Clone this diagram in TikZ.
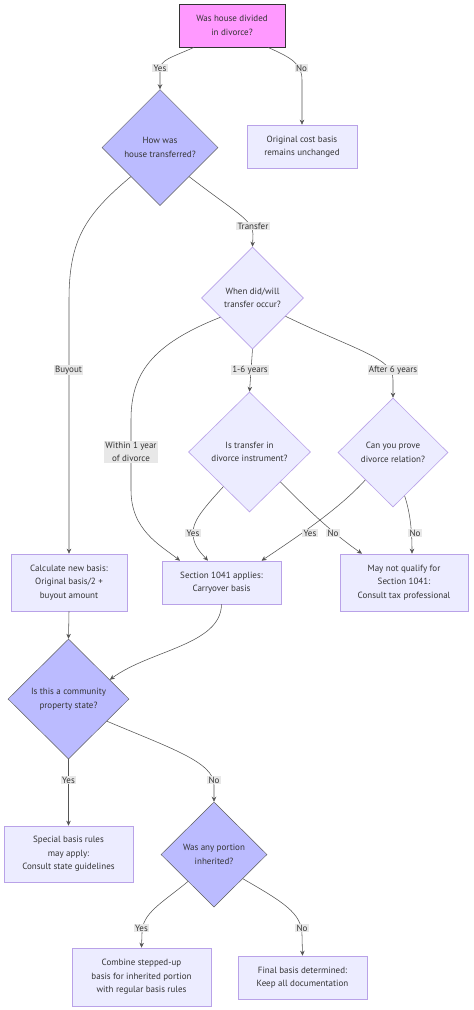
\documentclass[tikz,border=0pt]{standalone}
\usepackage{fontspec}
\setmainfont{PT Sans}
\usetikzlibrary{shapes.geometric,arrows.meta}
\definecolor{txt}{HTML}{333333}
\definecolor{edgec}{HTML}{555555}
\definecolor{pinkfill}{HTML}{FF99FF}
\definecolor{bluefill}{HTML}{BBBBFF}
\definecolor{lightfill}{HTML}{ECECFF}
\definecolor{lightstroke}{HTML}{9370DB}
\definecolor{lblfill}{HTML}{E8E8E8}
\tikzset{
  base/.style={font=\fontsize{9}{13.5}\selectfont, text=txt, align=center},
  pinkbox/.style={base, rectangle, fill=pinkfill, draw=txt, line width=0.8pt},
  plainbox/.style={base, rectangle, fill=lightfill, draw=lightstroke!65, line width=0.6pt},
  bluedia/.style={base, diamond, fill=bluefill, draw=txt!80, line width=0.5pt, inner sep=0pt, shape aspect=1},
  plaindia/.style={base, diamond, fill=lightfill, draw=lightstroke!65, line width=0.6pt, inner sep=0pt, shape aspect=1},
  edge/.style={draw=edgec, line width=0.55pt, -{Stealth[length=5pt,width=4.5pt]}},
  lbl/.style={base, fill=lblfill, inner sep=1.2pt, font=\fontsize{9}{13}\selectfont}
}
\begin{document}
\begin{tikzpicture}[x=1pt,y=-1pt]
\useasboundingbox (0,0) rectangle (474,1010);
\fill[white] (0,0) rectangle (474,1010);

% nodes
\node[pinkbox, minimum width=106pt, minimum height=43pt] (top) at (232,25.5) {Was house divided\\in divorce?};
\node[bluedia, minimum width=116pt, minimum height=116pt] (how) at (160,147.5) {How was\\house transferred?};
\node[plainbox, minimum width=110pt, minimum height=43pt] (orig) at (302,146.5) {Original cost basis\\remains unchanged};
\node[plaindia, minimum width=102pt, minimum height=102pt] (when) at (252.5,298) {When did/will\\transfer occur?};
\node[plaindia, minimum width=122pt, minimum height=120pt] (istrans) at (249.5,452) {Is transfer in\\divorce instrument?};
\node[plaindia, minimum width=110pt, minimum height=109pt] (canyou) at (393,452.5) {Can you prove\\divorce relation?};
\node[plainbox, minimum width=119pt, minimum height=43pt] (section) at (221.5,582.5) {Section 1041 applies:\\Carryover basis};
\node[plainbox, minimum width=128pt, minimum height=57pt] (maynot) at (404,582.5) {May not qualify for\\Section 1041:\\Consult tax professional};
\node[plainbox, minimum width=116pt, minimum height=57pt] (calc) at (69,582.5) {Calculate new basis:\\Original basis/2 +\\buyout amount};
\node[bluedia, minimum width=121pt, minimum height=120pt] (comm) at (68.5,699) {Is this a community\\property state?};
\node[plainbox, minimum width=129pt, minimum height=56pt] (special) at (68.5,854) {Special basis rules\\may apply:\\Consult state guidelines};
\node[bluedia, minimum width=106pt, minimum height=105pt] (inh) at (214,854.5) {Was any portion\\inherited?};
\node[plainbox, minimum width=139pt, minimum height=58pt] (combine) at (141.5,977) {Combine stepped-up\\basis for inherited portion\\with regular basis rules};
\node[plainbox, minimum width=129pt, minimum height=43pt] (final) at (302.5,977.5) {Final basis determined:\\Keep all documentation};

% edges
\draw[edge] ([xshift=-38pt]top.south) .. controls (170,58) and (160,60) .. (160,70) -- (how.north);
\draw[edge] ([xshift=36pt]top.south) .. controls (292,58) and (302,64) .. (302,80) -- (orig.north);
\draw[edge] (how.south west) .. controls (85,215) and (69,240) .. (69,300) -- (calc.north);
\draw[edge] (how.south east) .. controls (235,212) and (253,220) .. (253,234) -- (when.north);
\draw[edge] (when.211) .. controls (150,345) and (131,375) .. (131,420) -- (131,490) .. controls (131,530) and (160,545) .. ([xshift=-41.5pt]section.north);
\draw[edge] (when.south) -- (istrans.north);
\draw[edge] (when.-29) .. controls (360,352) and (393,358) .. (393,380) -- (canyou.north);
\draw[edge] (istrans.233) .. controls (200,512) and (193,522) .. (193,533) .. controls (193,545) and (200,552) .. ([xshift=-13.5pt]section.north);
\draw[edge] (istrans.-44) .. controls (310,512) and (335,535) .. ([xshift=-42pt]maynot.north);
\draw[edge] (canyou.south west) .. controls (340,508) and (300,535) .. ([xshift=40pt]section.north);
\draw[edge] (canyou.-75) .. controls (410,512) and (412,530) .. ([xshift=8pt]maynot.north);
\draw[edge] (calc.south) -- (comm.north);
\draw[edge] (section.south) .. controls (221,645) and (150,650) .. (comm.25);
\draw[edge] (comm.south) -- (special.north);
\draw[edge] (comm.-30) .. controls (170,748) and (214,762) .. (214,785) -- (inh.north);
\draw[edge] (inh.226) .. controls (162,903) and (142,913) .. (142,933) -- (combine.north);
\draw[edge] (inh.-40) .. controls (283,902) and (302,913) .. (302,935) -- (final.north);

% labels
\node[lbl] (l1) at (160,68) {Yes};
\node[lbl] (l2) at (301.5,68) {No};
\node[lbl] (l3) at (68.5,370) {Buyout};
\node[lbl] (l4) at (253,226) {Transfer};
\node[lbl] (l5) at (131,452) {Within 1 year\\of divorce};
\node[lbl] (l6) at (250,370) {1-6 years};
\node[lbl] (l7) at (393,370) {After 6 years};
\node[lbl] (l8) at (193,533) {Yes};
\node[lbl] (l9) at (333,533) {No};
\node[lbl] (l10) at (310,533) {Yes};
\node[lbl] (l11) at (415,533) {No};
\node[lbl] (l12) at (68.5,780) {Yes};
\node[lbl] (l13) at (214,780) {No};
\node[lbl] (l14) at (141.5,928) {Yes};
\node[lbl] (l15) at (302,928) {No};
\end{tikzpicture}
\end{document}
